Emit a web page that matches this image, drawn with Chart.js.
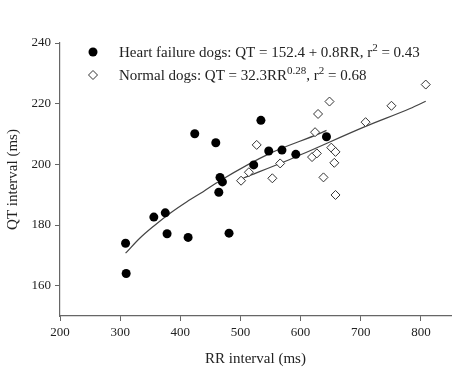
<!DOCTYPE html>
<html>
<head>
<meta charset="utf-8">
<script src="https://cdn.jsdelivr.net/npm/chart.js@4"></script>
<style>
  html, body { margin: 0; padding: 0; background: #fff; }
  #wrap { width: 474px; height: 372px; }
</style>
</head>
<body>
<div id="wrap"><canvas id="myChart" width="474" height="372"></canvas></div>
<script>
// heart failure dogs (filled circles)
const hfRR = [309, 310, 356, 375, 378, 413, 424, 459, 464, 466, 470, 481, 522, 534, 547, 569, 592, 643];
const hfQT = [174, 164, 182.6, 184, 177.1, 175.9, 210.1, 207.1, 190.8, 195.7, 194.2, 177.3, 199.8, 214.5, 204.4, 204.7, 203.3, 209.1];

// normal dogs (open diamonds)
const normRR = [501, 514, 527, 553, 566, 619, 624, 627, 629, 638, 648, 651, 656, 658, 658, 708, 751, 808];
const normQT = [194.6, 197.4, 206.4, 195.4, 200.3, 202.4, 210.6, 203.6, 216.6, 195.7, 220.7, 205.5, 200.5, 204.1, 189.9, 213.9, 219.3, 226.3];

// fitted curves
const hfFitRR = [309, 333, 355, 383, 411, 438, 466, 549, 632, 643];
const hfFitQT = [170.7, 175.7, 179.5, 183.9, 187.7, 191.0, 194.6, 203.6, 210.2, 211.2];
const normFitRR = [505, 582, 708, 782, 808];
const normFitQT = [195.5, 201.6, 212.5, 218.4, 220.8];

const xTicks = [200, 300, 400, 500, 600, 700, 800];
const yTicks = [160, 180, 200, 220, 240];

const legendRows = [
    { style: 'circle', parts: [['Heart failure dogs: QT = 152.4 + 0.8RR, r', 0], ['2', 1], [' = 0.43', 0]] },
    { style: 'diamond', parts: [['Normal dogs: QT = 32.3RR', 0], ['0.28', 1], [', r', 0], ['2', 1], [' = 0.68', 0]] }
];

const FONT = '"Liberation Serif", "DejaVu Serif", serif';
const INK = '#222';
const AXIS = '#666';

function toPoints(xs, ys) {
    return xs.map(function (x, i) { return { x: x, y: ys[i] }; });
}

// white background + custom legend with superscripts
const paperPlugin = {
    id: 'paper',
    beforeDraw: function (chart) {
        const c = chart.ctx;
        c.save();
        c.fillStyle = '#fff';
        c.fillRect(0, 0, chart.width, chart.height);
        c.restore();
    },
    afterDraw: function (chart) {
        const c = chart.ctx;
        c.save();
        legendRows.forEach(function (row, i) {
            const my = 52 + i * 23;
            const mx = 93;
            if (row.style === 'circle') {
                c.beginPath();
                c.arc(mx, my, 4.5, 0, Math.PI * 2);
                c.fillStyle = '#000';
                c.fill();
            } else {
                c.beginPath();
                c.moveTo(mx, my - 4.5);
                c.lineTo(mx + 4.5, my);
                c.lineTo(mx, my + 4.5);
                c.lineTo(mx - 4.5, my);
                c.closePath();
                c.fillStyle = '#fff';
                c.fill();
                c.lineWidth = 1;
                c.strokeStyle = '#333';
                c.stroke();
            }
            let tx = 119;
            const base = my + 5;
            c.fillStyle = INK;
            c.textBaseline = 'alphabetic';
            row.parts.forEach(function (p) {
                c.font = p[1] ? '11px ' + FONT : '15px ' + FONT;
                c.fillText(p[0], tx, p[1] ? base - 6 : base);
                tx += c.measureText(p[0]).width;
            });
        });
        c.restore();
    }
};

const data = {
    datasets: [
        {
            label: 'Heart failure dogs',
            data: toPoints(hfRR, hfQT),
            showLine: false,
            pointStyle: 'circle',
            pointRadius: 4.5,
            backgroundColor: '#000',
            borderColor: '#000',
            borderWidth: 0
        },
        {
            label: 'Normal dogs',
            data: toPoints(normRR, normQT),
            showLine: false,
            pointStyle: 'rectRot',
            pointRadius: 4.5,
            backgroundColor: '#fff',
            borderColor: '#333',
            borderWidth: 1
        },
        {
            label: 'HF fit',
            data: toPoints(hfFitRR, hfFitQT),
            showLine: true,
            pointRadius: 0,
            borderColor: '#444',
            borderWidth: 1.2,
            cubicInterpolationMode: 'monotone',
            fill: false
        },
        {
            label: 'Normal fit',
            data: toPoints(normFitRR, normFitQT),
            showLine: true,
            pointRadius: 0,
            borderColor: '#444',
            borderWidth: 1.2,
            cubicInterpolationMode: 'monotone',
            fill: false
        }
    ]
};

const config = {
    type: 'scatter',
    data: data,
    plugins: [paperPlugin],
    options: {
        responsive: false,
        animation: false,
        events: [],
        layout: { padding: { top: 43, right: 23, left: 0, bottom: 0 } },
        plugins: {
            legend: { display: false },
            tooltip: { enabled: false }
        },
        scales: {
            x: {
                type: 'linear',
                min: 200,
                max: 850,
                afterBuildTicks: function (s) { s.ticks = xTicks.map(function (v) { return { value: v }; }); },
                afterFit: function (s) { s.height = 56; },
                border: { display: true, color: AXIS, width: 1.2 },
                grid: { display: true, drawOnChartArea: false, drawTicks: true, tickLength: 5, color: AXIS },
                ticks: { color: INK, padding: 4, maxRotation: 0, font: { family: FONT, size: 13 } },
                title: { display: true, text: 'RR interval (ms)', color: INK, padding: { top: 3 }, font: { family: FONT, size: 15 } }
            },
            y: {
                type: 'linear',
                min: 150,
                max: 240,
                afterBuildTicks: function (s) { s.ticks = yTicks.map(function (v) { return { value: v }; }); },
                afterFit: function (s) { s.width = 60; },
                border: { display: true, color: AXIS, width: 1.2 },
                grid: { display: true, drawOnChartArea: false, drawTicks: true, tickLength: 5, color: AXIS },
                ticks: { color: INK, padding: 4, font: { family: FONT, size: 13 } },
                title: { display: true, text: 'QT interval (ms)', color: INK, padding: { bottom: 6 }, font: { family: FONT, size: 15 } }
            }
        }
    }
};

const myChart = new Chart(document.getElementById('myChart'), config);
</script>
</body>
</html>
